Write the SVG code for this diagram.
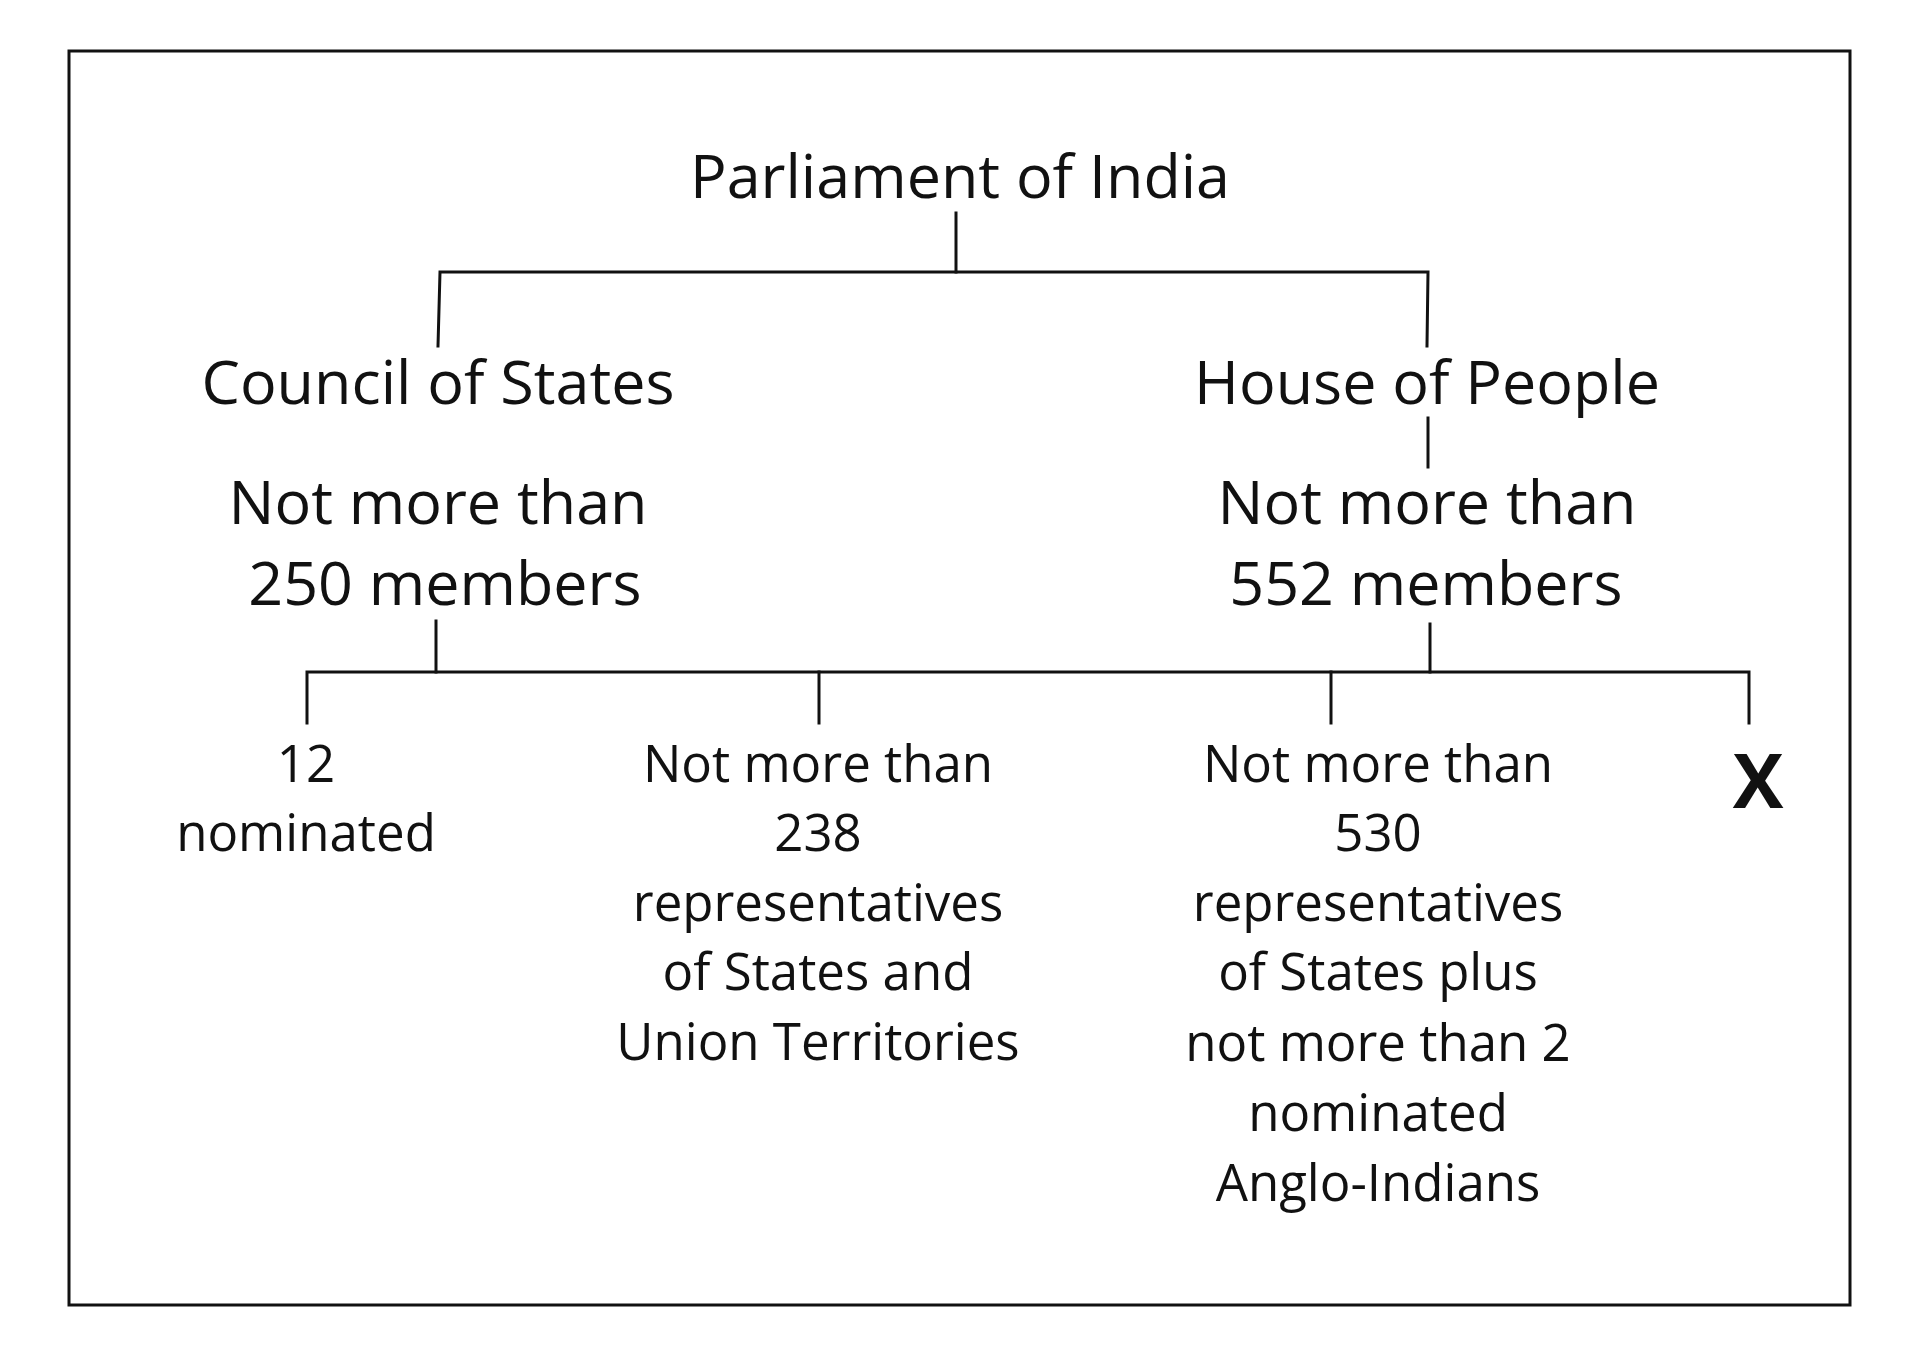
<svg xmlns="http://www.w3.org/2000/svg" width="1920" height="1357" viewBox="0 0 1920 1357">
<style>
.t{font-family:"Open Sans","Noto Sans","Liberation Sans",sans-serif;fill:#111;text-anchor:middle}
.big{font-size:61px}
.sm{font-size:51px}
.x{font-size:76px;font-weight:bold}
.ln{stroke:#111;stroke-width:3;fill:none;stroke-linecap:square}
</style>
<rect width="1920" height="1357" fill="#fff"/>
<rect x="69" y="51" width="1781" height="1254" fill="none" stroke="#111" stroke-width="3"/>
<g id="connectors" class="ln">
<line x1="956" y1="213" x2="956" y2="272"/>
<polyline points="438,346 440,272 1428,272 1427,346"/>
<line x1="1428" y1="418" x2="1428" y2="467"/>
<line x1="436" y1="621" x2="436" y2="672"/>
<line x1="1430" y1="624" x2="1430" y2="672"/>
<polyline points="307,723 307,672 1749,672 1749,723"/>
<line x1="819" y1="672" x2="819" y2="723"/>
<line x1="1331" y1="672" x2="1331" y2="723"/>
</g>
<g id="parliament"><text class="t big" x="960" y="198">Parliament of India</text></g>
<g id="council"><text class="t big" x="438" y="404">Council of States</text>
<text class="t big" x="438" y="524">Not more than</text>
<text class="t big" x="445" y="605">250 members</text></g>
<g id="house"><text class="t big" x="1427" y="404">House of People</text>
<text class="t big" x="1427" y="524">Not more than</text>
<text class="t big" x="1426" y="605">552 members</text></g>
<g id="nominated12"><text class="t sm" x="306" y="782">12</text>
<text class="t sm" x="306" y="851">nominated</text></g>
<g id="states238"><text class="t sm" x="818" y="782">Not more than</text>
<text class="t sm" x="818" y="851">238</text>
<text class="t sm" x="818" y="921">representatives</text>
<text class="t sm" x="818" y="990">of States and</text>
<text class="t sm" x="818" y="1060">Union Territories</text></g>
<g id="states530"><text class="t sm" x="1378" y="782">Not more than</text>
<text class="t sm" x="1378" y="851">530</text>
<text class="t sm" x="1378" y="921">representatives</text>
<text class="t sm" x="1378" y="990">of States plus</text>
<text class="t sm" x="1378" y="1061">not more than 2</text>
<text class="t sm" x="1378" y="1131">nominated</text>
<text class="t sm" x="1378" y="1201">Anglo-Indians</text></g>
<g id="x"><text class="t x" x="1758" y="808">X</text></g>
</svg>
